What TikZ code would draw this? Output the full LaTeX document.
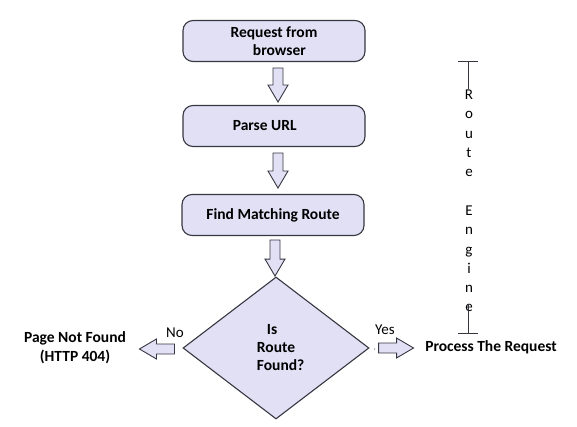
\documentclass[tikz,border=0pt]{standalone}
\usepackage{fontspec}
\setmainfont{Carlito}
\usetikzlibrary{shapes.geometric,calc}
\definecolor{lav}{RGB}{226,224,245}
\definecolor{edge}{RGB}{55,55,65}
\tikzset{
  stepbox/.style={draw=edge, fill=lav, line width=1.1pt, rounded corners=10pt,
    minimum width=182pt, minimum height=41pt, inner sep=0pt,
    font=\fontsize{15.5}{18}\selectfont\bfseries, align=center},
  decision/.style={draw=edge, fill=lav, line width=1.1pt, diamond,
    minimum width=186pt, minimum height=142pt, inner sep=0pt,
    font=\fontsize{15.5}{18}\selectfont\bfseries, align=center},
  plain/.style={font=\fontsize{15.5}{19}\selectfont\bfseries, align=center, inner sep=0pt},
  lbl/.style={font=\fontsize{15}{18}\selectfont, inner sep=0pt},
  arrstyle/.style={draw=edge, fill=lav, line width=0.9pt, line join=miter},
  pics/blockarr/.style={code={
    \draw[arrstyle] (0,-5) -- (#1-17,-5) -- (#1-17,-10) -- (#1,0) -- (#1-17,10) -- (#1-17,5) -- (0,5) -- cycle;}}
}
\begin{document}
\begin{tikzpicture}[x=1pt,y=-1pt]
\useasboundingbox (0,0) rectangle (577,427);

\node[stepbox] (b1) at (274,41) {Request from\\\hspace*{0.7em}browser};
\node[stepbox] (b2) at (274,126) {Parse URL\hspace*{1.2em}};
\node[stepbox] (b3) at (273,215) {Find Matching Route};
\node[decision] (d) at (276,348) {Is\hspace*{0.5em}\\Route\\\hspace*{0.6em}Found?};

\pic[rotate=-90] at ($(b1.south)+(4,6)$) {blockarr=34};
\pic[rotate=-90] at ($(b2.south)+(4,6)$) {blockarr=35};
\pic[rotate=-90] at ($(b3.south)+(2,4)$) {blockarr=36};
\pic[rotate=180] at ($(d.west)+(-8,1)$) {blockarr=35};
\pic at ($(d.east)+(9,0)$) {blockarr=35};

\fill[gray] ($(d.east)+(5,1)$) circle (0.7pt);

\node[lbl] (no) at (175,333) {No};
\node[lbl] (yes) at (385,330) {Yes};
\node[plain] (pnf) at (75,348) {Page Not Found\\(HTTP 404)};
\node[plain] (ptr) at (491,347) {Process The Request};

\node[lbl, align=center, font=\fontsize{15}{19.3}\selectfont] (re) at (469,201)
  {R\\o\\u\\t\\e\\\mbox{}\\E\\n\\g\\i\\n\\e};
\coordinate (bt) at (468,61);
\coordinate (bb) at (468,333);
\draw[edge, line width=0.9pt] ($(bt)+(-10,0)$) -- ($(bt)+(10,0)$);
\draw[edge, line width=0.9pt] (bt) -- ($(bt)+(0,28)$);
\draw[edge, line width=0.9pt] ($(bb)+(0,-29)$) -- (bb);
\draw[edge, line width=0.9pt] ($(bb)+(-10,0)$) -- ($(bb)+(10,0)$);
\end{tikzpicture}
\end{document}
